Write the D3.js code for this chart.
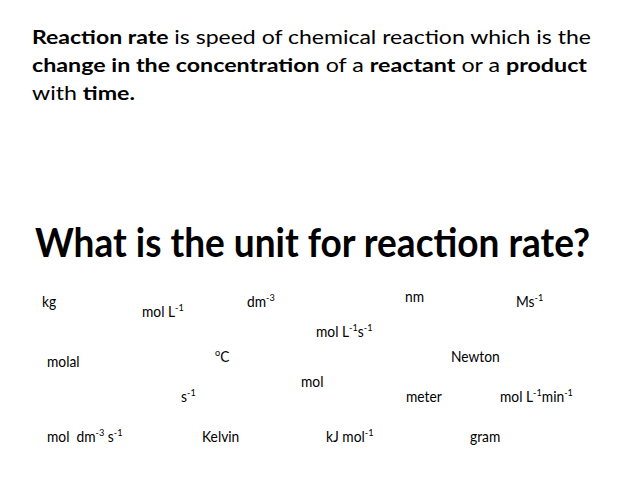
<!DOCTYPE html>
<html>
<head>
<meta charset="utf-8">
<script src="https://cdn.jsdelivr.net/npm/d3@7"></script>
<style>
  body { margin: 0; background: #fff; }
  svg { display: block; }
  text { font-family: Lato, "Open Sans", sans-serif; fill: #000; white-space: pre; }
</style>
</head>
<body>
<script>
// slide text, [words, bold?]
var introLines = [
  [["Reaction rate", 1], [" is speed of chemical reaction which is the", 0]],
  [["change in the concentration", 1], [" of a ", 0], ["reactant", 1], [" or a ", 0], ["product", 1]],
  [["with ", 0], ["time.", 1]]
];
var introWidths = [559, 555, 103];

var question = "What is the unit for reaction rate?";

// ^ marks a superscript
var units = [
  "kg", "mol L^-1", "dm^-3", "nm", "Ms^-1",
  "mol L^-1s^-1", "molal", "^oC", "Newton", "mol",
  "s^-1", "meter", "mol L^-1min^-1",
  "mol  dm^-3 s^-1", "Kelvin", "kJ mol^-1", "gram"
];
// where each unit sits on the slide (left, baseline)
var unitX = [42, 142, 247, 405, 516, 316, 47, 215, 451, 301, 181, 406, 500, 47, 202, 326, 470];
var unitY = [307, 317, 307, 302, 307, 337, 367, 362, 362, 387, 402, 402, 402, 442, 442, 442, 442];

(function () {
  var width = 638, height = 479;

  var x = d3.scaleLinear().domain([0, 638]).range([0, width]);
  var y = d3.scaleLinear().domain([0, 479]).range([0, height]);

  var svg = d3.select("body")
    .append("svg")
    .attr("width", width)
    .attr("height", height);

  // intro paragraph
  svg.selectAll("text.intro")
    .data(introLines)
  .enter()
    .append("text")
    .attr("class", "intro")
    .attr("x", x(32))
    .attr("y", function (d, i) { return y(44 + i * 28); })
    .attr("textLength", function (d, i) { return introWidths[i]; })
    .attr("lengthAdjust", "spacingAndGlyphs")
    .style("font-size", "19.5px")
    .each(function (d) {
      d3.select(this).selectAll("tspan")
        .data(d)
      .enter()
        .append("tspan")
        .style("font-weight", function (p) { return p[1] ? "bold" : "normal"; })
        .text(function (p) { return p[0]; });
    });

  // the question
  svg.append("text")
    .attr("x", x(35))
    .attr("y", y(257))
    .attr("textLength", 555)
    .attr("lengthAdjust", "spacingAndGlyphs")
    .style("font-size", "40px")
    .style("font-weight", "bold")
    .text(question);

  // scattered units
  var g = svg.selectAll("g.unit")
    .data(units)
  .enter()
    .append("g")
    .attr("class", "unit")
    .attr("transform", function (d, i) {
      return "translate(" + x(unitX[i]) + "," + y(unitY[i]) + ") scale(0.92,1)";
    });

  g.append("text")
    .style("font-size", "15px")
    .each(function (d) {
      var parts = d.split(/\^(-?\d+|o)/);
      var t = d3.select(this);
      var raised = false;
      parts.forEach(function (p, k) {
        if (p === "") return;
        var sup = k % 2 === 1;
        var ts = t.append("tspan").text(p);
        if (sup) {
          ts.style("font-size", "10px").attr("dy", raised ? 0 : -6);
          raised = true;
        } else if (raised) {
          ts.attr("dy", 6);
          raised = false;
        }
      });
    });
})();
</script>
</body>
</html>
